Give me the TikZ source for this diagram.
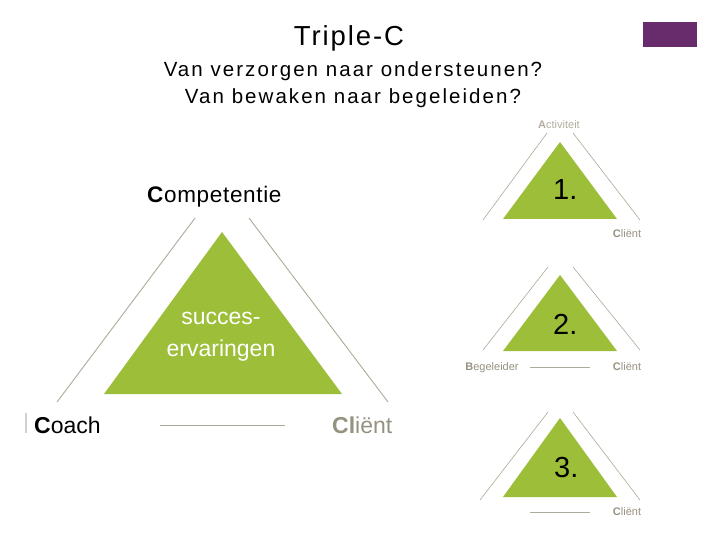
\documentclass[tikz,border=0pt]{standalone}
\usepackage{fontspec}
\setmainfont{Liberation Sans}
\newfontfamily\spacedA[LetterSpace=7]{Liberation Sans}
\newfontfamily\spacedB[LetterSpace=10]{Liberation Sans}
\newfontfamily\spacedC[LetterSpace=3]{Liberation Sans}
\definecolor{leaf}{RGB}{157,190,57}
\definecolor{edgegray}{RGB}{172,170,152}
\definecolor{labgray}{RGB}{150,146,128}
\definecolor{labgraylight}{RGB}{178,174,160}
\definecolor{plum}{RGB}{104,44,108}
\tikzset{
  txt/.style={inner sep=0pt, anchor=base},
  side/.style={draw=edgegray, line width=0.9pt},
  sideth/.style={draw=edgegray, line width=0.6pt},
  tri/.style={fill=leaf, draw=none},
  smalllab/.style={txt, font=\fontsize{11}{13}\selectfont, text=labgray},
}
\begin{document}
\begin{tikzpicture}[x=1pt,y=-1pt]
\useasboundingbox (0,0) rectangle (720,540);
\fill[white] (0,0) rectangle (720,540);
% purple box
\fill[plum] (643,22) rectangle (697,47);
% titles
\node[txt] (title) at (349,46) {\spacedA\fontsize{27.5}{30}\selectfont Triple-C};
\node[txt] (sub1) at (353,77) {\spacedB\fontsize{20.5}{24}\selectfont Van verzorgen naar ondersteunen?};
\node[txt] (sub2) at (353,104) {\spacedB\fontsize{20.5}{24}\selectfont Van bewaken naar begeleiden?};
% big triangle
\draw[side] (195,218) -- (57,402);
\draw[side] (249,218) -- (388,402);
\fill[tri] (222,232) -- (104,394) -- (342,394) -- cycle;
\draw[side] (160,425) -- (285,425);
\fill[black!18] (25.3,413) rectangle (26.7,433);
\node[txt, anchor=base west] (comp) at (147,203) {\spacedC\fontsize{22.5}{26}\selectfont\textbf{C}ompetentie};
\node[txt, anchor=base west] (coach) at (34,433) {\fontsize{23}{26}\selectfont\textbf{C}oach};
\node[txt, anchor=base west, text=labgray] (client) at (332,433) {\fontsize{23}{26}\selectfont\textbf{Cl}iënt};
\node[txt, text=white] (succ1) at (221,324) {\fontsize{23}{26}\selectfont succes-};
\node[txt, text=white] (succ2) at (221,356) {\fontsize{23}{26}\selectfont ervaringen};
% small triangle 1
\draw[sideth] (547,133) -- (483,220);
\draw[sideth] (573,133) -- (640,220);
\fill[tri] (560,142) -- (503,219) -- (617,219) -- cycle;
\node[txt, anchor=base west] (n1) at (553,200) {\fontsize{29}{32}\selectfont 1.};
\node[smalllab, text=labgraylight] (act) at (559,129) {\textbf{A}ctiviteit};
\node[smalllab] (cl1) at (627,237) {\textbf{C}liënt};
% small triangle 2
\draw[sideth] (548,267) -- (483,350);
\draw[sideth] (573,267) -- (640,350);
\fill[tri] (560,275) -- (503,351) -- (617,351) -- cycle;
\node[txt, anchor=base west] (n2) at (553,334) {\fontsize{29}{32}\selectfont 2.};
\node[smalllab] (beg) at (492,370) {\textbf{B}egeleider};
\draw[sideth] (530,367) -- (590,367);
\node[smalllab] (cl2) at (627,370) {\textbf{C}liënt};
% small triangle 3
\draw[sideth] (548,412) -- (480,500);
\draw[sideth] (573,412) -- (640,500);
\fill[tri] (560,418) -- (503,497) -- (617,497) -- cycle;
\node[txt, anchor=base west] (n3) at (554,477) {\fontsize{29}{32}\selectfont 3.};
\draw[sideth] (530,512) -- (590,512);
\node[smalllab] (cl3) at (627,515) {\textbf{C}liënt};
\end{tikzpicture}
\end{document}
